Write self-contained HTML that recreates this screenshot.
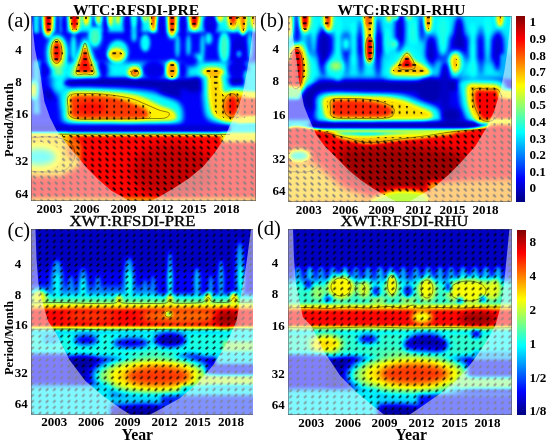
<!DOCTYPE html><html><head><meta charset="utf-8"><style>
html,body{margin:0;padding:0;background:#fff;width:550px;height:443px;overflow:hidden}
.pl{position:absolute;display:block;overflow:hidden}
.cb{position:absolute}
#tx{position:absolute;left:0;top:0}
text{font-family:"Liberation Serif","Times New Roman",serif;fill:#000}
</style></head><body>
<svg class="pl" style="left:31px;top:16px" width="225" height="185" viewBox="0 0 225 185">
<defs>
<filter id="ja" filterUnits="userSpaceOnUse" x="-20" y="-20" width="265" height="225" color-interpolation-filters="sRGB">
<feGaussianBlur stdDeviation="1"/>
<feComponentTransfer><feFuncR type="table" tableValues="0 0 0 0 0.5 1 1 1 0.5"/><feFuncG type="table" tableValues="0 0 0.5 1 1 1 0.5 0 0"/><feFuncB type="table" tableValues="0.5 1 1 1 0.5 0 0 0 0"/><feFuncA type="discrete" tableValues="1"/></feComponentTransfer>
</filter>
<filter id="ma" filterUnits="userSpaceOnUse" x="-20" y="-20" width="265" height="225" color-interpolation-filters="sRGB">
<feGaussianBlur stdDeviation="1"/>
<feComponentTransfer><feFuncR type="discrete" tableValues="0 0 0 0 0 0 0 0 0 0 0 0 0 1 1 1 1 1 1 1"/><feFuncG type="discrete" tableValues="0 0 0 0 0 0 0 0 0 0 0 0 0 1 1 1 1 1 1 1"/><feFuncB type="discrete" tableValues="0 0 0 0 0 0 0 0 0 0 0 0 0 1 1 1 1 1 1 1"/><feFuncA type="discrete" tableValues="1"/></feComponentTransfer>
</filter>
<pattern id="aa0" patternUnits="userSpaceOnUse" x="-0.125" y="-1.05" width="7.25" height="5.9">
<path d="M2.52,2.95L4.72,2.95" stroke="#000" stroke-width="1.9" stroke-linecap="round" opacity="0.85"/>
</pattern>
<pattern id="aa1" patternUnits="userSpaceOnUse" x="-0.125" y="-1.05" width="7.25" height="5.9">
<path d="M3.62,3.55L3.62,2.35" stroke="#000" stroke-width="1.9" stroke-linecap="round" opacity="0.85"/>
</pattern>
<pattern id="aa2" patternUnits="userSpaceOnUse" x="-0.125" y="-1.05" width="7.25" height="5.9">
<path d="M4.33,3.66L2.92,2.24" stroke="#000" stroke-width="1.9" stroke-linecap="round" opacity="0.9"/>
</pattern>
<g id="sa">
<rect x="-20" y="-20" width="265" height="225" fill="#212121"/>
<rect x="-5" y="-5" width="235" height="22" fill="#5e5e5e" filter="url(#f1_5)"/>
<rect x="-5" y="17" width="235" height="29" fill="#212121" filter="url(#f2)"/>
<rect x="-5" y="46" width="235" height="16" fill="#5e5e5e" filter="url(#f2)"/>
<ellipse cx="10" cy="8" rx="2.7" ry="12" fill="#1a1a1a" filter="url(#f1_5)"/>
<ellipse cx="26.5" cy="8" rx="2.2" ry="12" fill="#1a1a1a" filter="url(#f1_5)"/>
<ellipse cx="33.5" cy="8" rx="3.2" ry="12" fill="#1a1a1a" filter="url(#f1_5)"/>
<ellipse cx="64" cy="8" rx="2.7" ry="12" fill="#1a1a1a" filter="url(#f1_5)"/>
<ellipse cx="74.5" cy="8" rx="3.2" ry="12" fill="#1a1a1a" filter="url(#f1_5)"/>
<ellipse cx="96.5" cy="8" rx="4.2" ry="12" fill="#1a1a1a" filter="url(#f1_5)"/>
<ellipse cx="108" cy="8" rx="2.7" ry="12" fill="#1a1a1a" filter="url(#f1_5)"/>
<ellipse cx="131.5" cy="8" rx="6.2" ry="12" fill="#1a1a1a" filter="url(#f1_5)"/>
<ellipse cx="152" cy="8" rx="4.7" ry="12" fill="#1a1a1a" filter="url(#f1_5)"/>
<ellipse cx="179.5" cy="8" rx="7.2" ry="12" fill="#1a1a1a" filter="url(#f1_5)"/>
<ellipse cx="42.5" cy="32" rx="3" ry="13" fill="#636363" filter="url(#f1_5)"/>
<ellipse cx="64" cy="20" rx="6.5" ry="9" fill="#636363" filter="url(#f1_5)"/>
<ellipse cx="87" cy="36" rx="10.5" ry="12" fill="#636363" filter="url(#f1_5)"/>
<ellipse cx="114" cy="27" rx="4.5" ry="8" fill="#636363" filter="url(#f1_5)"/>
<ellipse cx="146.5" cy="30" rx="2" ry="12" fill="#636363" filter="url(#f1_5)"/>
<ellipse cx="157.5" cy="30" rx="2" ry="12" fill="#636363" filter="url(#f1_5)"/>
<ellipse cx="171.5" cy="30" rx="2" ry="12" fill="#636363" filter="url(#f1_5)"/>
<ellipse cx="193.5" cy="32" rx="6" ry="15" fill="#636363" filter="url(#f1_5)"/>
<ellipse cx="219" cy="30" rx="2.5" ry="14" fill="#636363" filter="url(#f1_5)"/>
<ellipse cx="103" cy="20" rx="2.5" ry="6" fill="#636363" filter="url(#f1_5)"/>
<ellipse cx="12.5" cy="54" rx="8" ry="10" fill="#1a1a1a" filter="url(#f2)"/>
<ellipse cx="71" cy="54" rx="6.5" ry="10" fill="#1a1a1a" filter="url(#f2)"/>
<ellipse cx="123" cy="54" rx="12.5" ry="10" fill="#1a1a1a" filter="url(#f2)"/>
<ellipse cx="151.5" cy="54" rx="5" ry="10" fill="#1a1a1a" filter="url(#f2)"/>
<ellipse cx="206.5" cy="54" rx="11" ry="10" fill="#1a1a1a" filter="url(#f2)"/>
<rect x="-5" y="-5" width="8" height="67" fill="#1f1f1f" filter="url(#f1)"/>
<rect x="3.5" y="-5" width="4" height="22" fill="#5c5c5c" filter="url(#f1)"/>
<ellipse cx="208" cy="35" rx="8" ry="14" fill="#171717" filter="url(#f2)"/>
<ellipse cx="26" cy="37" rx="10" ry="18" fill="#5c5c5c" filter="url(#f2_5)"/>
<polygon points="54,20 39,63 69,63" fill="#5c5c5c" filter="url(#f2_5)"/>
<ellipse cx="28" cy="57" rx="6" ry="5" fill="#666666" filter="url(#f2)"/>
<ellipse cx="114.5" cy="27" rx="3.5" ry="8" fill="#616161" filter="url(#f1_5)"/>
<ellipse cx="177.7" cy="22.5" rx="3.5" ry="6" fill="#616161" filter="url(#f1_5)"/>
<ellipse cx="208" cy="38" rx="2.5" ry="3.5" fill="#545454" filter="url(#f1_5)"/>
<ellipse cx="64" cy="22" rx="5" ry="10" fill="#737373" filter="url(#f2_5)"/>
<ellipse cx="193" cy="30" rx="3" ry="14" fill="#737373" filter="url(#f2)"/>
<ellipse cx="167" cy="43" rx="5" ry="5" fill="#808080" filter="url(#f2)"/>
<ellipse cx="17" cy="3" rx="4.3" ry="18" fill="#f2f2f2" filter="url(#f2)"/>
<ellipse cx="43.5" cy="2" rx="4.3" ry="15" fill="#f2f2f2" filter="url(#f2)"/>
<ellipse cx="55.3" cy="0" rx="2.8" ry="10" fill="#b8b8b8" filter="url(#f1_5)"/>
<ellipse cx="67" cy="0" rx="2.8" ry="9" fill="#9e9e9e" filter="url(#f1_5)"/>
<ellipse cx="79.3" cy="0" rx="2.5" ry="11" fill="#b2b2b2" filter="url(#f1_5)"/>
<ellipse cx="87" cy="0" rx="2" ry="9" fill="#adadad" filter="url(#f1_5)"/>
<ellipse cx="103" cy="2" rx="2.5" ry="10" fill="#6b6b6b" filter="url(#f1_5)"/>
<ellipse cx="114" cy="0" rx="3" ry="6" fill="#949494" filter="url(#f1_5)"/>
<ellipse cx="122.3" cy="0" rx="3.2" ry="16" fill="#d1d1d1" filter="url(#f1_5)"/>
<ellipse cx="141" cy="3" rx="4" ry="19" fill="#e6e6e6" filter="url(#f2)"/>
<ellipse cx="163.5" cy="0" rx="4.5" ry="14" fill="#f2f2f2" filter="url(#f2)"/>
<ellipse cx="189" cy="0" rx="3.5" ry="6" fill="#a8a8a8" filter="url(#f1_5)"/>
<ellipse cx="202" cy="0" rx="5.5" ry="14" fill="#c2c2c2" filter="url(#f2)"/>
<ellipse cx="202" cy="0" rx="3" ry="7" fill="#dbdbdb" filter="url(#f1_5)"/>
<ellipse cx="212" cy="1" rx="3.8" ry="18" fill="#c2c2c2" filter="url(#f1_5)"/>
<ellipse cx="224" cy="3" rx="4" ry="10" fill="#c7c7c7" filter="url(#f2)"/>
<ellipse cx="26.5" cy="37" rx="8.5" ry="16" fill="#9e9e9e" filter="url(#f2_5)"/>
<ellipse cx="26" cy="36" rx="4.6" ry="11" fill="#dbdbdb" filter="url(#f1_5)"/>
<ellipse cx="28" cy="57" rx="3.5" ry="3.5" fill="#8c8c8c" filter="url(#f1_5)"/>
<polygon points="54,22 40,61 68,61" fill="#a1a1a1" filter="url(#f2_5)"/>
<polygon points="54,29 45.5,56.5 62,56.5" fill="#dbdbdb" filter="url(#f1_5)"/>
<ellipse cx="85.5" cy="38.5" rx="8.5" ry="6.5" fill="#adadad" filter="url(#f1_5)"/>
<ellipse cx="103.5" cy="56.5" rx="7" ry="6.5" fill="#adadad" filter="url(#f1_5)"/>
<ellipse cx="103.5" cy="56.5" rx="2.5" ry="2.2" fill="#d1d1d1" filter="url(#f1)"/>
<ellipse cx="141" cy="54" rx="6" ry="9.5" fill="#b8b8b8" filter="url(#f1_5)"/>
<ellipse cx="181" cy="55.5" rx="11.5" ry="5" fill="#b2b2b2" filter="url(#f2)"/>
<rect x="2.5" y="45" width="6.5" height="53" fill="#545454" filter="url(#f1_5)"/>
<ellipse cx="2" cy="74" rx="4" ry="9" fill="#a8a8a8" filter="url(#f2)"/>
<ellipse cx="15" cy="80" rx="6" ry="18" fill="#1f1f1f" filter="url(#f2)"/>
<ellipse cx="19.5" cy="77" rx="5" ry="6" fill="#0a0a0a" filter="url(#f2)"/>
<ellipse cx="29" cy="68" rx="9" ry="11" fill="#616161" filter="url(#f3)"/>
<path d="M36.0,64.5C40.0,63.3 49.3,62.8 60.0,62.5C70.7,62.2 88.8,62.2 100.0,62.5C111.2,62.8 118.7,64.2 127.0,64.5C135.3,64.8 133.7,64.2 150.0,64.0C166.3,63.8 212.5,61.8 225.0,63.0C237.5,64.2 237.5,69.4 225.0,71.0C212.5,72.6 166.3,72.3 150.0,72.5C133.7,72.7 135.3,72.3 127.0,72.0C118.7,71.7 111.2,70.8 100.0,70.5C88.8,70.2 70.7,70.7 60.0,70.5C49.3,70.3 40.0,70.5 36.0,69.5C32.0,68.5 32.0,65.7 36.0,64.5Z" fill="#0d0d0d" filter="url(#f1_5)"/>
<polygon points="127,68 150,68 150,82 128,80" fill="#0f0f0f" filter="url(#f2)"/>
<ellipse cx="166" cy="70" rx="11" ry="8" fill="#0d0d0d" filter="url(#f2_5)"/>
<ellipse cx="165" cy="90" rx="10" ry="14" fill="#1f1f1f" filter="url(#f2_5)"/>
<path d="M30.0,76.0C32.5,72.1 37.5,72.2 45.0,71.5C52.5,70.8 65.8,71.7 75.0,72.0C84.2,72.3 92.5,72.8 100.0,73.5C107.5,74.2 114.2,74.8 120.0,76.0C125.8,77.2 130.3,79.2 135.0,81.0C139.7,82.8 145.2,84.2 148.0,87.0C150.8,89.8 152.0,94.6 152.0,98.0C152.0,101.4 153.3,105.8 148.0,107.5C142.7,109.2 132.2,108.3 120.0,108.5C107.8,108.7 89.0,108.7 75.0,108.5C61.0,108.3 43.5,109.8 36.0,107.5C28.5,105.2 31.0,100.2 30.0,95.0C29.0,89.8 27.5,79.9 30.0,76.0Z" fill="#616161" filter="url(#f2)"/>
<path d="M170.0,52.0C173.5,49.2 187.5,46.3 192.0,48.0C196.5,49.7 195.7,58.3 197.0,62.0C198.3,65.7 197.5,68.7 200.0,70.0C202.5,71.3 209.0,69.0 212.0,70.0C215.0,71.0 217.0,70.2 218.0,76.0C219.0,81.8 220.2,99.3 218.0,105.0C215.8,110.7 209.7,109.5 205.0,110.0C200.3,110.5 194.8,109.3 190.0,108.0C185.2,106.7 179.0,105.8 176.0,102.0C173.0,98.2 172.8,91.2 172.0,85.0C171.2,78.8 171.3,70.5 171.0,65.0C170.7,59.5 166.5,54.8 170.0,52.0Z" fill="#616161" filter="url(#f2)"/>
<rect x="213" y="55" width="17" height="20" fill="#5c5c5c" filter="url(#f1_5)"/>
<polygon points="0,109.5 225,109.5 225,116.5 0,116.5" fill="#141414" filter="url(#f1_5)"/>
<path d="M37.0,78.0C38.5,74.7 38.7,75.4 45.0,75.0C51.3,74.6 65.8,75.0 75.0,75.5C84.2,76.0 93.5,76.9 100.0,78.0C106.5,79.1 109.3,80.2 114.0,82.0C118.7,83.8 123.5,87.0 128.0,89.0C132.5,91.0 138.2,92.3 141.0,94.0C143.8,95.7 144.7,97.3 145.0,99.0C145.3,100.7 147.2,102.9 143.0,104.0C138.8,105.1 131.3,105.2 120.0,105.5C108.7,105.8 88.3,105.8 75.0,105.5C61.7,105.2 46.5,105.8 40.0,104.0C33.5,102.2 36.5,99.3 36.0,95.0C35.5,90.7 35.5,81.3 37.0,78.0Z" fill="#a3a3a3" filter="url(#f1_5)"/>
<path d="M41.0,81.0C44.3,79.2 53.5,79.5 60.0,79.5C66.5,79.5 74.7,80.2 80.0,81.0C85.3,81.8 88.2,82.8 92.0,84.0C95.8,85.2 99.5,86.7 103.0,88.0C106.5,89.3 110.7,90.5 113.0,92.0C115.3,93.5 117.0,95.3 117.0,97.0C117.0,98.7 120.0,101.1 113.0,102.0C106.0,102.9 86.7,102.6 75.0,102.5C63.3,102.4 48.8,103.6 43.0,101.5C37.2,99.4 40.3,93.4 40.0,90.0C39.7,86.6 37.7,82.8 41.0,81.0Z" fill="#d1d1d1" filter="url(#f1_5)"/>
<ellipse cx="60" cy="92" rx="15" ry="6" fill="#dbdbdb" filter="url(#f2)"/>
<path d="M178.0,58.0C179.8,56.0 185.8,54.7 188.0,56.0C190.2,57.3 190.2,62.7 191.0,66.0C191.8,69.3 190.5,74.7 193.0,76.0C195.5,77.3 202.7,73.3 206.0,74.0C209.3,74.7 211.8,75.7 213.0,80.0C214.2,84.3 214.3,95.7 213.0,100.0C211.7,104.3 208.5,105.2 205.0,106.0C201.5,106.8 195.8,106.2 192.0,105.0C188.2,103.8 184.3,102.3 182.0,99.0C179.7,95.7 178.8,90.2 178.0,85.0C177.2,79.8 177.0,72.5 177.0,68.0C177.0,63.5 176.2,60.0 178.0,58.0Z" fill="#a8a8a8" filter="url(#f1_5)"/>
<ellipse cx="201.5" cy="90" rx="6" ry="11" fill="#dedede" filter="url(#f2)"/>
<ellipse cx="195" cy="91" rx="2.5" ry="8" fill="#c7c7c7" filter="url(#f1_5)"/>
<rect x="210" y="75" width="20" height="6" fill="#a3a3a3" filter="url(#f1)"/>
<rect x="208" y="81" width="22" height="20" fill="#d6d6d6" filter="url(#f1)"/>
<rect x="205" y="101" width="25" height="7" fill="#a3a3a3" filter="url(#f1)"/>
<rect x="199" y="108" width="31" height="9" fill="#5c5c5c" filter="url(#f1)"/>
<ellipse cx="182" cy="56" rx="11" ry="4.5" fill="#b2b2b2" filter="url(#f1_5)"/>
<ellipse cx="160" cy="45" rx="8" ry="6" fill="#1f1f1f" filter="url(#f2)"/>
<rect x="-5" y="116.8" width="235" height="2.2" fill="#a3a3a3" filter="url(#f0_8)"/>
<rect x="-5" y="119" width="235" height="71" fill="#dedede" filter="url(#f0_8)"/>
<ellipse cx="142" cy="155" rx="42" ry="28" fill="#ededed" filter="url(#f6)"/>
<rect x="190" y="117" width="40" height="9" fill="#a3a3a3" filter="url(#f1)"/>
<polygon points="-5,118 36,118 48,130 48,150 30,160 -5,160" fill="#a8a8a8" filter="url(#f2)"/>
<ellipse cx="8" cy="141" rx="17" ry="8.5" fill="#616161" filter="url(#f3)"/>
<ellipse cx="42" cy="133" rx="7" ry="11" fill="#c7c7c7" filter="url(#f2_5)"/>
<rect x="-5" y="181.5" width="235" height="8.5" fill="#b8b8b8" filter="url(#f1)"/>
</g>
<mask id="ka" maskUnits="userSpaceOnUse" x="0" y="0" width="225" height="185"><use href="#sa" filter="url(#ma)"/></mask>
</defs>
<use href="#sa" filter="url(#ja)"/>
<g mask="url(#ka)">
<rect x="0" y="0" width="225" height="72" fill="url(#aa0)"/>
<rect x="0" y="72" width="225" height="44" fill="url(#aa1)"/>
<rect x="0" y="116" width="225" height="69" fill="url(#aa2)"/>
</g>
<path d="M31.0,35.5C31.0,37.9 30.5,40.7 29.9,42.6C29.3,44.5 28.2,46.2 27.2,46.9C26.2,47.6 24.8,47.6 23.8,46.9C22.8,46.2 21.7,44.5 21.1,42.6C20.5,40.7 20.0,37.9 20.0,35.5C20.0,33.1 20.5,30.3 21.1,28.4C21.7,26.5 22.8,24.8 23.8,24.1C24.8,23.4 26.2,23.4 27.2,24.1C28.2,24.8 29.3,26.5 29.9,28.4C30.5,30.3 31.0,33.1 31.0,35.5Z" fill="none" stroke="#221100" stroke-width="0.8" opacity="0.65"/>
<path d="M54.0,27.0C55.3,27.0 56.5,35.0 58.0,40.0C59.5,45.0 63.7,54.0 63.0,57.0C62.3,60.0 57.0,58.0 54.0,58.0C51.0,58.0 45.7,60.0 45.0,57.0C44.3,54.0 48.5,45.0 50.0,40.0C51.5,35.0 52.7,27.0 54.0,27.0Z" fill="none" stroke="#221100" stroke-width="0.8" opacity="0.65"/>
<path d="M208.5,89.5C208.5,91.9 207.9,94.7 207.0,96.6C206.1,98.5 204.5,100.2 203.0,100.9C201.5,101.6 199.5,101.6 198.0,100.9C196.5,100.2 194.9,98.5 194.0,96.6C193.1,94.7 192.5,91.9 192.5,89.5C192.5,87.1 193.1,84.3 194.0,82.4C194.9,80.5 196.5,78.8 198.0,78.1C199.5,77.4 201.5,77.4 203.0,78.1C204.5,78.8 206.1,80.5 207.0,82.4C207.9,84.3 208.5,87.1 208.5,89.5Z" fill="none" stroke="#221100" stroke-width="0.8" opacity="0.65"/>
<path d="M107.5,57.0C107.5,57.6 107.2,58.4 106.8,58.9C106.4,59.4 105.8,59.8 105.1,60.0C104.4,60.2 103.6,60.2 102.9,60.0C102.2,59.8 101.6,59.4 101.2,58.9C100.8,58.4 100.5,57.6 100.5,57.0C100.5,56.4 100.8,55.6 101.2,55.1C101.6,54.6 102.2,54.2 102.9,54.0C103.6,53.8 104.4,53.8 105.1,54.0C105.8,54.2 106.4,54.6 106.8,55.1C107.2,55.6 107.5,56.4 107.5,57.0Z" fill="none" stroke="#221100" stroke-width="0.8" opacity="0.65"/>
<path d="M39.0,79.0C42.8,76.9 53.2,77.5 60.0,77.5C66.8,77.5 73.3,78.2 80.0,79.0C86.7,79.8 94.3,81.0 100.0,82.5C105.7,84.0 109.3,86.1 114.0,88.0C118.7,89.9 124.0,92.5 128.0,94.0C132.0,95.5 137.0,95.7 138.0,97.0C139.0,98.3 137.8,101.1 134.0,102.0C130.2,102.9 124.8,102.3 115.0,102.5C105.2,102.7 87.2,103.1 75.0,103.0C62.8,102.9 48.3,104.2 42.0,102.0C35.7,99.8 37.5,93.8 37.0,90.0C36.5,86.2 35.2,81.1 39.0,79.0Z" fill="none" stroke="#221100" stroke-width="0.8" opacity="0.65"/>
<path d="M27.0,118.3C35.8,118.3 61.2,118.2 80.0,118.2C98.8,118.2 120.2,118.2 140.0,118.3C159.8,118.3 189.2,118.5 199.0,118.5" fill="none" stroke="#221100" stroke-width="0.8" opacity="0.65"/>
<path d="M-2.0,122.0C1.7,121.8 13.3,120.3 20.0,121.0C26.7,121.7 34.0,122.8 38.0,126.0C42.0,129.2 44.7,135.3 44.0,140.0C43.3,144.7 38.8,151.3 34.0,154.0C29.2,156.7 21.0,155.8 15.0,156.0C9.0,156.2 0.8,155.2 -2.0,155.0" fill="none" stroke="#221100" stroke-width="0.8" opacity="0.65"/>
<path d="M-1,-1 L0.8,-1 L0.8,0 L2,15 L4,33 L7,48 L8.7,54 L11.1,70 L13.4,85.6 L19,101.5 L25.3,114 L30.1,120 L37.5,129.9 L46.8,141 L56,152 L67.1,163.3 L80.1,174.4 L93,181.8 L99,185.5 L119,185.5 L128.2,180.8 L142,172.7 L158.2,162.3 L172,150.8 L183.5,137 L192.7,123.2 L201,105 L207,92 L211.5,78 L215.5,58 L218.5,40 L221,20 L223,0 L223,-1 L226,-1 L226,186 L-1,186 Z" fill="#fff" fill-opacity="0.5"/>
<rect x="0.25" y="0.25" width="224.5" height="184.5" fill="none" stroke="#444" stroke-width="0.5"/>
</svg>
<svg class="pl" style="left:288px;top:16.4px" width="224" height="185.8" viewBox="0 0 224 185.8">
<defs>
<filter id="jb" filterUnits="userSpaceOnUse" x="-20" y="-20" width="264" height="225.8" color-interpolation-filters="sRGB">
<feGaussianBlur stdDeviation="1"/>
<feComponentTransfer><feFuncR type="table" tableValues="0 0 0 0 0.5 1 1 1 0.5"/><feFuncG type="table" tableValues="0 0 0.5 1 1 1 0.5 0 0"/><feFuncB type="table" tableValues="0.5 1 1 1 0.5 0 0 0 0"/><feFuncA type="discrete" tableValues="1"/></feComponentTransfer>
</filter>
<filter id="mb" filterUnits="userSpaceOnUse" x="-20" y="-20" width="264" height="225.8" color-interpolation-filters="sRGB">
<feGaussianBlur stdDeviation="1"/>
<feComponentTransfer><feFuncR type="discrete" tableValues="0 0 0 0 0 0 0 0 0 0 0 0 0 1 1 1 1 1 1 1"/><feFuncG type="discrete" tableValues="0 0 0 0 0 0 0 0 0 0 0 0 0 1 1 1 1 1 1 1"/><feFuncB type="discrete" tableValues="0 0 0 0 0 0 0 0 0 0 0 0 0 1 1 1 1 1 1 1"/><feFuncA type="discrete" tableValues="1"/></feComponentTransfer>
</filter>
<pattern id="ab0" patternUnits="userSpaceOnUse" x="-1.55" y="-1.675" width="7.3" height="5.95">
<path d="M2.55,2.98L4.75,2.98" stroke="#000" stroke-width="1.9" stroke-linecap="round" opacity="0.85"/>
</pattern>
<pattern id="ab1" patternUnits="userSpaceOnUse" x="-1.55" y="-1.675" width="7.3" height="5.95">
<path d="M3.65,3.58L3.65,2.38" stroke="#000" stroke-width="1.9" stroke-linecap="round" opacity="0.85"/>
</pattern>
<pattern id="ab2" patternUnits="userSpaceOnUse" x="-1.55" y="-1.675" width="7.3" height="5.95">
<path d="M4.36,3.68L2.94,2.27" stroke="#000" stroke-width="1.9" stroke-linecap="round" opacity="0.9"/>
</pattern>
<g id="sb">
<rect x="-20" y="-20" width="264" height="225.8" fill="#1f1f1f"/>
<rect x="-5" y="-5" width="235" height="67" fill="#5c5c5c" filter="url(#f2)"/>
<rect x="20" y="18" width="80" height="20" fill="#242424" filter="url(#f3)"/>
<rect x="140" y="20" width="75" height="25" fill="#242424" filter="url(#f3)"/>
<ellipse cx="26" cy="18" rx="3" ry="20" fill="#666666" filter="url(#f2)"/>
<ellipse cx="50" cy="35" rx="4" ry="35" fill="#666666" filter="url(#f2)"/>
<ellipse cx="66" cy="28" rx="4" ry="22" fill="#666666" filter="url(#f2)"/>
<ellipse cx="99" cy="26" rx="5" ry="14" fill="#666666" filter="url(#f2)"/>
<ellipse cx="126" cy="16" rx="6" ry="12" fill="#666666" filter="url(#f2)"/>
<ellipse cx="155" cy="20" rx="6" ry="20" fill="#666666" filter="url(#f2)"/>
<ellipse cx="185" cy="36" rx="4" ry="28" fill="#666666" filter="url(#f2)"/>
<ellipse cx="199.5" cy="24" rx="3.5" ry="24" fill="#666666" filter="url(#f2)"/>
<ellipse cx="9" cy="15" rx="3" ry="20" fill="#141414" filter="url(#f2)"/>
<ellipse cx="36" cy="35" rx="6" ry="25" fill="#0f0f0f" filter="url(#f2)"/>
<ellipse cx="58" cy="40" rx="2.5" ry="20" fill="#1a1a1a" filter="url(#f2)"/>
<ellipse cx="73" cy="32" rx="2.5" ry="28" fill="#141414" filter="url(#f2)"/>
<ellipse cx="90" cy="32" rx="3" ry="30" fill="#0f0f0f" filter="url(#f2)"/>
<ellipse cx="112" cy="15" rx="5" ry="22" fill="#121212" filter="url(#f2)"/>
<ellipse cx="142.5" cy="40" rx="4.5" ry="20" fill="#121212" filter="url(#f2)"/>
<ellipse cx="171" cy="30" rx="6" ry="30" fill="#0f0f0f" filter="url(#f2)"/>
<ellipse cx="193" cy="35" rx="2" ry="25" fill="#1a1a1a" filter="url(#f2)"/>
<ellipse cx="210" cy="35" rx="5" ry="20" fill="#141414" filter="url(#f2)"/>
<ellipse cx="134" cy="12" rx="2.5" ry="14" fill="#171717" filter="url(#f2)"/>
<ellipse cx="23" cy="58" rx="6" ry="14" fill="#616161" filter="url(#f2_5)"/>
<ellipse cx="47" cy="52" rx="11" ry="10" fill="#616161" filter="url(#f2_5)"/>
<path d="M119.0,30.0C123.0,30.0 127.5,36.3 132.0,40.0C136.5,43.7 143.7,48.0 146.0,52.0C148.3,56.0 148.7,61.7 146.0,64.0C143.3,66.3 137.7,66.0 130.0,66.0C122.3,66.0 105.2,66.3 100.0,64.0C94.8,61.7 97.7,56.0 99.0,52.0C100.3,48.0 104.7,43.7 108.0,40.0C111.3,36.3 115.0,30.0 119.0,30.0Z" fill="#616161" filter="url(#f2_5)"/>
<ellipse cx="169" cy="47" rx="9" ry="13" fill="#616161" filter="url(#f2_5)"/>
<ellipse cx="107" cy="28" rx="3.5" ry="4" fill="#808080" filter="url(#f2)"/>
<ellipse cx="58" cy="28" rx="3" ry="7" fill="#7a7a7a" filter="url(#f2)"/>
<rect x="212" y="38" width="18" height="36" fill="#4c4c4c" filter="url(#f1_5)"/>
<ellipse cx="0" cy="8" rx="4" ry="14" fill="#c2c2c2" filter="url(#f2)"/>
<ellipse cx="17" cy="2" rx="4.3" ry="14" fill="#f2f2f2" filter="url(#f2)"/>
<ellipse cx="40" cy="2" rx="3.8" ry="14" fill="#e0e0e0" filter="url(#f2)"/>
<ellipse cx="81" cy="18" rx="5" ry="30" fill="#b2b2b2" filter="url(#f2)"/>
<ellipse cx="81.5" cy="33" rx="3.5" ry="12" fill="#ebebeb" filter="url(#f1_5)"/>
<ellipse cx="80" cy="2" rx="4" ry="10" fill="#c7c7c7" filter="url(#f1_5)"/>
<ellipse cx="101" cy="0" rx="2.5" ry="6" fill="#a8a8a8" filter="url(#f1_5)"/>
<ellipse cx="108" cy="0" rx="2.5" ry="4" fill="#949494" filter="url(#f1_5)"/>
<ellipse cx="121" cy="0" rx="2.5" ry="4" fill="#949494" filter="url(#f1_5)"/>
<ellipse cx="140" cy="3" rx="3.5" ry="13" fill="#c2c2c2" filter="url(#f1_5)"/>
<ellipse cx="212" cy="2" rx="3.5" ry="9" fill="#b2b2b2" filter="url(#f1_5)"/>
<ellipse cx="167" cy="47" rx="5" ry="10" fill="#b2b2b2" filter="url(#f2)"/>
<ellipse cx="10" cy="53" rx="10" ry="26" fill="#a8a8a8" filter="url(#f2_5)"/>
<ellipse cx="8" cy="53" rx="6.5" ry="22" fill="#ebebeb" filter="url(#f2)"/>
<ellipse cx="48" cy="50" rx="6" ry="4" fill="#8f8f8f" filter="url(#f2)"/>
<path d="M119.0,36.0C121.7,35.7 123.2,41.7 126.0,44.0C128.8,46.3 133.3,48.0 136.0,50.0C138.7,52.0 141.3,54.2 142.0,56.0C142.7,57.8 142.3,60.3 140.0,61.0C137.7,61.7 133.7,60.3 128.0,60.0C122.3,59.7 110.2,60.2 106.0,59.0C101.8,57.8 102.3,55.2 103.0,53.0C103.7,50.8 107.3,48.8 110.0,46.0C112.7,43.2 116.3,36.3 119.0,36.0Z" fill="#adadad" filter="url(#f1_5)"/>
<polygon points="119,40 112.5,51 125.5,51" fill="#ebebeb" filter="url(#f1_2)"/>
<path d="M29.0,67.0C37.5,65.3 59.8,65.3 80.0,65.0C100.2,64.7 126.0,65.2 150.0,65.0C174.0,64.8 211.7,62.8 224.0,64.0C236.3,65.2 236.3,70.2 224.0,72.0C211.7,73.8 174.0,74.3 150.0,75.0C126.0,75.7 100.2,76.0 80.0,76.0C59.8,76.0 37.5,76.5 29.0,75.0C20.5,73.5 20.5,68.7 29.0,67.0Z" fill="#0d0d0d" filter="url(#f1_5)"/>
<ellipse cx="25" cy="83" rx="11" ry="12" fill="#0d0d0d" filter="url(#f2_5)"/>
<ellipse cx="142" cy="74" rx="13" ry="14" fill="#0d0d0d" filter="url(#f2_5)"/>
<ellipse cx="157" cy="70" rx="6" ry="25" fill="#121212" filter="url(#f2)"/>
<path d="M30.0,79.0C33.7,76.3 41.7,76.3 50.0,76.0C58.3,75.7 70.0,76.7 80.0,77.0C90.0,77.3 101.7,76.8 110.0,78.0C118.3,79.2 123.3,81.5 130.0,84.0C136.7,86.5 146.7,89.3 150.0,93.0C153.3,96.7 158.3,103.5 150.0,106.0C141.7,108.5 116.7,107.7 100.0,108.0C83.3,108.3 61.7,108.5 50.0,108.0C38.3,107.5 33.7,107.7 30.0,105.0C26.3,102.3 28.0,96.3 28.0,92.0C28.0,87.7 26.3,81.7 30.0,79.0Z" fill="#616161" filter="url(#f2)"/>
<path d="M172.0,64.0C175.8,61.0 187.8,61.8 195.0,62.0C202.2,62.2 210.8,62.0 215.0,65.0C219.2,68.0 219.5,74.2 220.0,80.0C220.5,85.8 220.5,94.7 218.0,100.0C215.5,105.3 210.5,110.3 205.0,112.0C199.5,113.7 190.0,112.8 185.0,110.0C180.0,107.2 177.2,100.0 175.0,95.0C172.8,90.0 172.5,85.2 172.0,80.0C171.5,74.8 168.2,67.0 172.0,64.0Z" fill="#616161" filter="url(#f2)"/>
<polygon points="14,106 224,105 224,113 150,115 60,116 14,114" fill="#0d0d0d" filter="url(#f1_5)"/>
<ellipse cx="163" cy="99" rx="10" ry="7" fill="#0d0d0d" filter="url(#f2)"/>
<path d="M36.0,82.0C38.5,79.9 42.7,79.8 50.0,79.5C57.3,79.2 71.7,79.8 80.0,80.0C88.3,80.2 94.2,80.3 100.0,81.0C105.8,81.7 110.0,82.5 115.0,84.0C120.0,85.5 125.3,88.0 130.0,90.0C134.7,92.0 141.3,93.8 143.0,96.0C144.7,98.2 147.2,101.7 140.0,103.0C132.8,104.3 113.3,103.8 100.0,104.0C86.7,104.2 70.0,104.2 60.0,104.0C50.0,103.8 44.2,105.0 40.0,103.0C35.8,101.0 35.7,95.5 35.0,92.0C34.3,88.5 33.5,84.1 36.0,82.0Z" fill="#a6a6a6" filter="url(#f1_5)"/>
<path d="M45.0,85.0C47.7,83.7 54.2,84.0 60.0,84.0C65.8,84.0 74.2,84.3 80.0,85.0C85.8,85.7 91.0,86.7 95.0,88.0C99.0,89.3 103.2,91.0 104.0,93.0C104.8,95.0 104.8,98.7 100.0,100.0C95.2,101.3 83.8,101.0 75.0,101.0C66.2,101.0 52.2,101.5 47.0,100.0C41.8,98.5 44.3,94.5 44.0,92.0C43.7,89.5 42.3,86.3 45.0,85.0Z" fill="#d6d6d6" filter="url(#f1_5)"/>
<path d="M180.0,69.0C182.7,66.7 189.8,67.8 195.0,68.0C200.2,68.2 207.7,68.0 211.0,70.0C214.3,72.0 214.7,75.8 215.0,80.0C215.3,84.2 214.7,90.8 213.0,95.0C211.3,99.2 207.8,102.8 205.0,105.0C202.2,107.2 198.8,108.0 196.0,108.0C193.2,108.0 190.3,107.2 188.0,105.0C185.7,102.8 183.5,98.8 182.0,95.0C180.5,91.2 179.3,86.3 179.0,82.0C178.7,77.7 177.3,71.3 180.0,69.0Z" fill="#a8a8a8" filter="url(#f1_5)"/>
<path d="M188.0,75.0C190.2,73.2 196.3,74.3 200.0,74.5C203.7,74.7 208.0,73.4 210.0,76.0C212.0,78.6 212.8,85.7 212.0,90.0C211.2,94.3 207.8,99.8 205.0,102.0C202.2,104.2 197.5,104.2 195.0,103.0C192.5,101.8 191.3,98.0 190.0,95.0C188.7,92.0 187.3,88.3 187.0,85.0C186.7,81.7 185.8,76.8 188.0,75.0Z" fill="#e0e0e0" filter="url(#f1_5)"/>
<rect x="210" y="74" width="20" height="8" fill="#a3a3a3" filter="url(#f1)"/>
<rect x="207" y="82" width="23" height="22" fill="#dbdbdb" filter="url(#f1)"/>
<rect x="200" y="103.6" width="30" height="10.9" fill="#a3a3a3" filter="url(#f1)"/>
<rect x="-5" y="45" width="13" height="26" fill="#dbdbdb" filter="url(#f1_5)"/>
<rect x="-5" y="71" width="17" height="12" fill="#808080" filter="url(#f1_5)"/>
<rect x="-5" y="104" width="27" height="6" fill="#5c5c5c" filter="url(#f1_5)"/>
<rect x="-5" y="113" width="235" height="4" fill="#a3a3a3" filter="url(#f1)"/>
<path d="M-5.0,116.5C2.5,103.3 29.5,115.2 40.0,116.0C50.5,116.8 51.3,119.1 58.0,121.0C64.7,122.9 71.0,127.1 80.0,127.5C89.0,127.9 102.0,124.8 112.0,123.5C122.0,122.2 130.3,121.3 140.0,120.0C149.7,118.7 155.0,116.4 170.0,115.5C185.0,114.6 220.0,101.2 230.0,114.5C240.0,127.8 269.2,181.6 230.0,195.0C190.8,208.4 34.2,208.1 -5.0,195.0C-44.2,181.9 -12.5,129.7 -5.0,116.5Z" fill="#dedede" filter="url(#f1)"/>
<path d="M45.0,118.0C48.7,117.2 67.5,119.2 80.0,119.0C92.5,118.8 106.7,117.5 120.0,117.0C133.3,116.5 152.5,115.8 160.0,116.0C167.5,116.2 168.3,117.2 165.0,118.0C161.7,118.8 148.8,120.0 140.0,121.0C131.2,122.0 122.0,122.8 112.0,124.0C102.0,125.2 89.0,128.0 80.0,128.0C71.0,128.0 63.8,125.7 58.0,124.0C52.2,122.3 41.3,118.8 45.0,118.0Z" fill="#a3a3a3" filter="url(#f1)"/>
<path d="M50.0,135.0C54.0,128.8 75.0,129.7 90.0,129.0C105.0,128.3 125.3,129.2 140.0,131.0C154.7,132.8 174.7,133.8 178.0,140.0C181.3,146.2 171.3,162.0 160.0,168.0C148.7,174.0 125.7,176.3 110.0,176.0C94.3,175.7 76.0,172.8 66.0,166.0C56.0,159.2 46.0,141.2 50.0,135.0Z" fill="#f7f7f7" filter="url(#f6)"/>
<ellipse cx="11" cy="140" rx="11" ry="6" fill="#616161" filter="url(#f2_5)"/>
<polygon points="-5,148 25,146 55,172 95,186 -5,190" fill="#adadad" filter="url(#f3)"/>
<path d="M86.0,182.0C90.0,179.0 101.0,174.7 110.0,174.0C119.0,173.3 135.0,175.0 140.0,178.0C145.0,181.0 149.0,189.7 140.0,192.0C131.0,194.3 95.0,193.7 86.0,192.0C77.0,190.3 82.0,185.0 86.0,182.0Z" fill="#8f8f8f" filter="url(#f2)"/>
<polygon points="140,166 230,163 230,192 140,192" fill="#b8b8b8" filter="url(#f2)"/>
</g>
<mask id="kb" maskUnits="userSpaceOnUse" x="0" y="0" width="224" height="185.8"><use href="#sb" filter="url(#mb)"/></mask>
</defs>
<use href="#sb" filter="url(#jb)"/>
<g mask="url(#kb)">
<rect x="0" y="0" width="224" height="72" fill="url(#ab0)"/>
<rect x="0" y="72" width="224" height="40" fill="url(#ab1)"/>
<rect x="0" y="112" width="224" height="74" fill="url(#ab2)"/>
</g>
<path d="M15.0,53.0C15.0,56.9 14.5,61.6 13.7,64.8C12.9,68.0 11.5,70.8 10.2,72.0C8.9,73.2 7.1,73.2 5.8,72.0C4.5,70.8 3.1,68.0 2.3,64.8C1.5,61.6 1.0,56.9 1.0,53.0C1.0,49.1 1.5,44.4 2.3,41.2C3.1,38.0 4.5,35.2 5.8,34.0C7.1,32.8 8.9,32.8 10.2,34.0C11.5,35.2 12.9,38.0 13.7,41.2C14.5,44.4 15.0,49.1 15.0,53.0Z" fill="none" stroke="#221100" stroke-width="0.8" opacity="0.65"/>
<path d="M85.7,33.0C85.7,35.4 85.4,38.3 84.9,40.3C84.4,42.3 83.6,44.1 82.8,44.9C82.0,45.7 81.0,45.7 80.2,44.9C79.4,44.1 78.6,42.3 78.1,40.3C77.6,38.3 77.3,35.4 77.3,33.0C77.3,30.6 77.6,27.7 78.1,25.7C78.6,23.7 79.4,21.9 80.2,21.1C81.0,20.3 82.0,20.3 82.8,21.1C83.6,21.9 84.4,23.7 84.9,25.7C85.4,27.7 85.7,30.6 85.7,33.0Z" fill="none" stroke="#221100" stroke-width="0.8" opacity="0.65"/>
<path d="M119.0,37.0C121.7,37.0 128.3,49.5 127.0,52.0C125.7,54.5 112.3,54.5 111.0,52.0C109.7,49.5 116.3,37.0 119.0,37.0Z" fill="none" stroke="#221100" stroke-width="0.8" opacity="0.65"/>
<path d="M44.0,83.5C46.9,81.9 54.0,82.5 60.0,82.5C66.0,82.5 74.2,82.8 80.0,83.5C85.8,84.2 90.7,84.9 95.0,86.5C99.3,88.1 105.0,90.5 106.0,93.0C107.0,95.5 106.2,99.9 101.0,101.5C95.8,103.1 84.2,102.5 75.0,102.5C65.8,102.5 51.4,103.2 46.0,101.5C40.6,99.8 42.8,95.0 42.5,92.0C42.2,89.0 41.1,85.1 44.0,83.5Z" fill="none" stroke="#221100" stroke-width="0.8" opacity="0.65"/>
<path d="M186.0,73.5C188.4,71.5 195.8,72.8 200.0,73.0C204.2,73.2 208.7,71.7 211.0,74.5C213.3,77.3 214.8,85.2 214.0,90.0C213.2,94.8 209.2,101.1 206.0,103.5C202.8,105.9 197.9,105.9 195.0,104.5C192.1,103.1 190.1,98.2 188.5,95.0C186.9,91.8 185.9,88.6 185.5,85.0C185.1,81.4 183.6,75.5 186.0,73.5Z" fill="none" stroke="#221100" stroke-width="0.8" opacity="0.65"/>
<path d="M36.0,116.5C39.7,117.3 50.7,119.8 58.0,121.5C65.3,123.2 71.0,126.2 80.0,126.5C89.0,126.8 102.0,124.2 112.0,123.0C122.0,121.8 130.3,120.8 140.0,119.5C149.7,118.2 160.0,116.0 170.0,115.0C180.0,114.0 195.0,113.8 200.0,113.5" fill="none" stroke="#221100" stroke-width="0.8" opacity="0.65"/>
<path d="M-2.0,133.0C0.8,132.7 10.0,130.5 15.0,131.0C20.0,131.5 25.5,132.8 28.0,136.0C30.5,139.2 31.7,146.7 30.0,150.0C28.3,153.3 23.3,155.2 18.0,156.0C12.7,156.8 1.3,155.2 -2.0,155.0" fill="none" stroke="#221100" stroke-width="0.8" opacity="0.65"/>
<path d="M-1,-1 L3,-1 L3,0 L5,20 L7,35 L8.7,45 L11,65 L14,80 L16,90 L21.8,104.5 L28.4,119 L36.7,130 L48.9,142.2 L61,154.4 L73.3,164.6 L85.5,172.8 L99.8,181 L110,186.5 L120,186.5 L132.4,178.9 L146.6,170.7 L160.9,158.5 L173,146.3 L187.4,130 L197.7,113 L206.3,94.8 L212.4,74.5 L216.5,54.2 L219.5,33.9 L221.5,13.6 L222.5,0 L222.5,-1 L225,-1 L225,186.8 L-1,186.8 Z" fill="#fff" fill-opacity="0.5"/>
<rect x="0.25" y="0.25" width="223.5" height="185.3" fill="none" stroke="#444" stroke-width="0.5"/>
</svg>
<svg class="pl" style="left:30.5px;top:229px" width="222.5" height="185.5" viewBox="0 0 222.5 185.5">
<defs>
<filter id="jc" filterUnits="userSpaceOnUse" x="-20" y="-20" width="262.5" height="225.5" color-interpolation-filters="sRGB">
<feGaussianBlur stdDeviation="1"/>
<feComponentTransfer><feFuncR type="table" tableValues="0 0 0 0 0.5 1 1 1 0.5"/><feFuncG type="table" tableValues="0 0 0.5 1 1 1 0.5 0 0"/><feFuncB type="table" tableValues="0.5 1 1 1 0.5 0 0 0 0"/><feFuncA type="discrete" tableValues="1"/></feComponentTransfer>
</filter>
<filter id="mc" filterUnits="userSpaceOnUse" x="-20" y="-20" width="262.5" height="225.5" color-interpolation-filters="sRGB">
<feGaussianBlur stdDeviation="1"/>
<feComponentTransfer><feFuncR type="discrete" tableValues="1 1 1 1 1 1 1 1 1 1 1 1 1 1 1 1 1 1 1 1"/><feFuncG type="discrete" tableValues="1 1 1 1 1 1 1 1 1 1 1 1 1 1 1 1 1 1 1 1"/><feFuncB type="discrete" tableValues="1 1 1 1 1 1 1 1 1 1 1 1 1 1 1 1 1 1 1 1"/><feFuncA type="discrete" tableValues="1"/></feComponentTransfer>
</filter>
<pattern id="ac0" patternUnits="userSpaceOnUse" x="-2.03" y="-2.495" width="7.26" height="5.93">
<path d="M2.99,3.60L4.27,2.33" stroke="#000" stroke-width="1.9" stroke-linecap="round" opacity="0.8"/>
</pattern>
<g id="sc">
<rect x="-20" y="-20" width="262.5" height="225.5" fill="#111111"/>
<rect x="-5" y="42" width="235" height="38" fill="#1f1f1f" filter="url(#f4)"/>
<rect x="-5" y="58" width="130" height="22" fill="#424242" filter="url(#f3)"/>
<ellipse cx="26" cy="52" rx="6" ry="22" fill="#4c4c4c" filter="url(#f2)"/>
<ellipse cx="26" cy="56" rx="3" ry="12" fill="#616161" filter="url(#f1_5)"/>
<ellipse cx="40" cy="58" rx="2.5" ry="12" fill="#474747" filter="url(#f1_5)"/>
<ellipse cx="52" cy="56" rx="4" ry="18" fill="#4c4c4c" filter="url(#f2)"/>
<ellipse cx="52" cy="60" rx="2.5" ry="12" fill="#666666" filter="url(#f1_5)"/>
<ellipse cx="67" cy="58" rx="2.5" ry="12" fill="#474747" filter="url(#f1_5)"/>
<ellipse cx="98" cy="50" rx="5" ry="22" fill="#525252" filter="url(#f2)"/>
<ellipse cx="98" cy="56" rx="2.5" ry="14" fill="#6b6b6b" filter="url(#f1_5)"/>
<ellipse cx="114" cy="60" rx="2" ry="10" fill="#474747" filter="url(#f1_5)"/>
<ellipse cx="122" cy="58" rx="2" ry="12" fill="#474747" filter="url(#f1_5)"/>
<ellipse cx="139" cy="46" rx="2.5" ry="25" fill="#525252" filter="url(#f1_5)"/>
<ellipse cx="139" cy="54" rx="1.5" ry="15" fill="#6b6b6b" filter="url(#f1)"/>
<ellipse cx="166" cy="54" rx="3" ry="16" fill="#525252" filter="url(#f1_5)"/>
<ellipse cx="180" cy="58" rx="2" ry="12" fill="#4c4c4c" filter="url(#f1_5)"/>
<ellipse cx="190" cy="50" rx="2.5" ry="20" fill="#525252" filter="url(#f1_5)"/>
<ellipse cx="209" cy="40" rx="4" ry="28" fill="#525252" filter="url(#f2)"/>
<ellipse cx="210" cy="52" rx="2" ry="16" fill="#6b6b6b" filter="url(#f1_5)"/>
<rect x="-5" y="66" width="235" height="9" fill="#6b6b6b" filter="url(#f2)"/>
<rect x="-5" y="71" width="235" height="5" fill="#808080" filter="url(#f1_5)"/>
<rect x="-5" y="75" width="235" height="4.5" fill="#a8a8a8" filter="url(#f1_2)"/>
<ellipse cx="88" cy="71" rx="3" ry="5" fill="#a3a3a3" filter="url(#f1_5)"/>
<ellipse cx="139" cy="70" rx="3" ry="5" fill="#a3a3a3" filter="url(#f1_5)"/>
<ellipse cx="177" cy="69" rx="3" ry="6" fill="#a8a8a8" filter="url(#f1_5)"/>
<ellipse cx="203" cy="69" rx="4" ry="6" fill="#a8a8a8" filter="url(#f1_5)"/>
<ellipse cx="8" cy="68" rx="8" ry="7" fill="#9e9e9e" filter="url(#f2)"/>
<rect x="-5" y="78.8" width="235" height="20.2" fill="#dedede" filter="url(#f1_2)"/>
<ellipse cx="150" cy="87" rx="40" ry="7" fill="#c4c4c4" filter="url(#f3)"/>
<ellipse cx="60" cy="87" rx="25" ry="5" fill="#d1d1d1" filter="url(#f3)"/>
<ellipse cx="196" cy="90" rx="13" ry="9" fill="#f5f5f5" filter="url(#f3)"/>
<ellipse cx="137.5" cy="85" rx="3.5" ry="3" fill="#808080" filter="url(#f1)"/>
<rect x="-5" y="98.5" width="235" height="3.5" fill="#9e9e9e" filter="url(#f1)"/>
<rect x="-5" y="102" width="235" height="26" fill="#666666" filter="url(#f2)"/>
<ellipse cx="55" cy="111" rx="12" ry="5" fill="#1a1a1a" filter="url(#f2_5)"/>
<ellipse cx="100" cy="114" rx="18" ry="5" fill="#1a1a1a" filter="url(#f2_5)"/>
<ellipse cx="139" cy="111" rx="16" ry="7" fill="#0a0a0a" filter="url(#f2_5)"/>
<ellipse cx="158" cy="131" rx="14" ry="6" fill="#0f0f0f" filter="url(#f2_5)"/>
<ellipse cx="20" cy="110" rx="10" ry="5" fill="#4c4c4c" filter="url(#f2)"/>
<ellipse cx="51" cy="133" rx="16" ry="6.5" fill="#0a0a0a" filter="url(#f2)"/>
<ellipse cx="122" cy="147" rx="60" ry="21" fill="#858585" filter="url(#f5)"/>
<ellipse cx="124" cy="147" rx="46" ry="15" fill="#a8a8a8" filter="url(#f4)"/>
<ellipse cx="127" cy="147" rx="32" ry="9.5" fill="#d1d1d1" filter="url(#f3)"/>
<rect x="-5" y="166" width="235" height="10" fill="#5c5c5c" filter="url(#f3)"/>
<ellipse cx="114" cy="191" rx="30" ry="14" fill="#0a0a0a" filter="url(#f3)"/>
<rect x="-5" y="125" width="43" height="31" fill="#1f1f1f" filter="url(#f2)"/>
<rect x="-5" y="156" width="85" height="34" fill="#5c5c5c" filter="url(#f2)"/>
<rect x="198" y="100" width="32" height="12.5" fill="#616161" filter="url(#f1_5)"/>
<rect x="192" y="112.5" width="38" height="10.5" fill="#858585" filter="url(#f1_5)"/>
<rect x="185" y="123" width="45" height="13" fill="#5c5c5c" filter="url(#f1_5)"/>
<rect x="175" y="136" width="55" height="10" fill="#262626" filter="url(#f1_5)"/>
<rect x="165" y="146" width="65" height="11" fill="#8f8f8f" filter="url(#f1_5)"/>
<rect x="150" y="157" width="80" height="10" fill="#5c5c5c" filter="url(#f1_5)"/>
<rect x="130" y="167" width="100" height="23" fill="#292929" filter="url(#f1_5)"/>
</g>
<mask id="kc" maskUnits="userSpaceOnUse" x="0" y="0" width="222.5" height="185.5"><use href="#sc" filter="url(#mc)"/></mask>
</defs>
<use href="#sc" filter="url(#jc)"/>
<g>
<rect x="0" y="0" width="222.5" height="185.5" fill="url(#ac0)"/>
</g>
<path d="M141.0,85.0C141.0,85.6 140.7,86.3 140.3,86.8C139.9,87.3 139.2,87.7 138.6,87.9C137.9,88.1 137.1,88.1 136.4,87.9C135.8,87.7 135.1,87.3 134.7,86.8C134.3,86.3 134.0,85.6 134.0,85.0C134.0,84.4 134.3,83.7 134.7,83.2C135.1,82.7 135.8,82.3 136.4,82.1C137.1,81.9 137.9,81.9 138.6,82.1C139.2,82.3 139.9,82.7 140.3,83.2C140.7,83.7 141.0,84.4 141.0,85.0Z" fill="none" stroke="#221100" stroke-width="0.8" opacity="0.65"/>
<path d="M-2.0,74.0C3.3,73.9 19.7,73.4 30.0,73.5C40.3,73.6 51.0,74.4 60.0,74.5C69.0,74.6 79.3,74.8 84.0,74.0C88.7,73.2 86.7,70.0 88.0,70.0C89.3,70.0 86.7,73.2 92.0,74.0C97.3,74.8 112.8,74.5 120.0,74.5C127.2,74.5 131.8,74.8 135.0,74.0C138.2,73.2 137.7,70.0 139.0,70.0C140.3,70.0 137.8,73.4 143.0,74.0C148.2,74.6 164.3,74.4 170.0,73.5C175.7,72.6 175.0,68.6 177.0,68.5C179.0,68.4 178.5,72.2 182.0,73.0C185.5,73.8 194.5,73.8 198.0,73.0C201.5,72.2 201.3,68.5 203.0,68.5C204.7,68.5 204.3,72.2 208.0,73.0C211.7,73.8 222.2,73.0 225.0,73.0" fill="none" stroke="#221100" stroke-width="0.8" opacity="0.65"/>
<path d="M-2.0,100.5C5.0,100.4 26.3,99.9 40.0,100.0C53.7,100.1 66.7,100.9 80.0,101.0C93.3,101.1 106.7,100.5 120.0,100.5C133.3,100.5 146.7,101.1 160.0,101.0C173.3,100.9 189.2,100.1 200.0,100.0C210.8,99.9 220.8,100.4 225.0,100.5" fill="none" stroke="#221100" stroke-width="0.8" opacity="0.65"/>
<path d="M-1,-1 L4.5,-1 L4.5,0 L5.5,30 L7.5,55 L10,67 L13.5,80 L17,92 L25.5,104.7 L38.4,130.7 L54,151.5 L72.2,167 L90.4,180 L100,186 L118,186 L125,182.6 L148.4,169.6 L166.6,154 L182.2,136 L195.2,115 L205.6,91.8 L209,71 L213,50 L216,30 L220,0 L220,-1 L223.5,-1 L223.5,186.5 L-1,186.5 Z" fill="#fff" fill-opacity="0.5"/>
<rect x="0.25" y="0.25" width="222" height="185" fill="none" stroke="#444" stroke-width="0.5"/>
</svg>
<svg class="pl" style="left:288px;top:229.2px" width="224" height="186" viewBox="0 0 224 186">
<defs>
<filter id="jd" filterUnits="userSpaceOnUse" x="-20" y="-20" width="264" height="226" color-interpolation-filters="sRGB">
<feGaussianBlur stdDeviation="1"/>
<feComponentTransfer><feFuncR type="table" tableValues="0 0 0 0 0.5 1 1 1 0.5"/><feFuncG type="table" tableValues="0 0 0.5 1 1 1 0.5 0 0"/><feFuncB type="table" tableValues="0.5 1 1 1 0.5 0 0 0 0"/><feFuncA type="discrete" tableValues="1"/></feComponentTransfer>
</filter>
<filter id="md" filterUnits="userSpaceOnUse" x="-20" y="-20" width="264" height="226" color-interpolation-filters="sRGB">
<feGaussianBlur stdDeviation="1"/>
<feComponentTransfer><feFuncR type="discrete" tableValues="1 1 1 1 1 1 1 1 1 1 1 1 1 1 1 1 1 1 1 1"/><feFuncG type="discrete" tableValues="1 1 1 1 1 1 1 1 1 1 1 1 1 1 1 1 1 1 1 1"/><feFuncB type="discrete" tableValues="1 1 1 1 1 1 1 1 1 1 1 1 1 1 1 1 1 1 1 1"/><feFuncA type="discrete" tableValues="1"/></feComponentTransfer>
</filter>
<pattern id="ad0" patternUnits="userSpaceOnUse" x="-0.95" y="2.7" width="7.3" height="6">
<path d="M3.01,3.64L4.29,2.36" stroke="#000" stroke-width="1.9" stroke-linecap="round" opacity="0.8"/>
</pattern>
<g id="sd">
<rect x="-20" y="-20" width="264" height="226" fill="#111111"/>
<rect x="-5" y="40" width="235" height="42" fill="#292929" filter="url(#f3)"/>
<ellipse cx="10" cy="46" rx="3" ry="9" fill="#4c4c4c" filter="url(#f1_5)"/>
<ellipse cx="22" cy="46" rx="3" ry="9" fill="#575757" filter="url(#f1_5)"/>
<ellipse cx="33" cy="46" rx="3" ry="9" fill="#474747" filter="url(#f1_5)"/>
<ellipse cx="45" cy="46" rx="3" ry="9" fill="#4c4c4c" filter="url(#f1_5)"/>
<ellipse cx="57" cy="46" rx="3" ry="9" fill="#575757" filter="url(#f1_5)"/>
<ellipse cx="68" cy="46" rx="3" ry="9" fill="#474747" filter="url(#f1_5)"/>
<ellipse cx="80" cy="46" rx="3" ry="9" fill="#4c4c4c" filter="url(#f1_5)"/>
<ellipse cx="92" cy="46" rx="3" ry="9" fill="#525252" filter="url(#f1_5)"/>
<ellipse cx="103" cy="46" rx="3" ry="9" fill="#4c4c4c" filter="url(#f1_5)"/>
<ellipse cx="115" cy="46" rx="3" ry="9" fill="#4c4c4c" filter="url(#f1_5)"/>
<ellipse cx="128" cy="46" rx="3" ry="9" fill="#4c4c4c" filter="url(#f1_5)"/>
<ellipse cx="140" cy="46" rx="3" ry="9" fill="#525252" filter="url(#f1_5)"/>
<ellipse cx="152" cy="46" rx="3" ry="9" fill="#4c4c4c" filter="url(#f1_5)"/>
<ellipse cx="163" cy="46" rx="3" ry="9" fill="#4c4c4c" filter="url(#f1_5)"/>
<ellipse cx="175" cy="46" rx="3" ry="9" fill="#525252" filter="url(#f1_5)"/>
<ellipse cx="187" cy="46" rx="3" ry="9" fill="#4c4c4c" filter="url(#f1_5)"/>
<ellipse cx="198" cy="46" rx="3" ry="9" fill="#525252" filter="url(#f1_5)"/>
<ellipse cx="210" cy="46" rx="3" ry="9" fill="#525252" filter="url(#f1_5)"/>
<rect x="-5" y="52" width="235" height="30" fill="#6b6b6b" filter="url(#f3)"/>
<ellipse cx="53" cy="58" rx="14" ry="12" fill="#a1a1a1" filter="url(#f2_5)"/>
<ellipse cx="76" cy="60" rx="7" ry="9" fill="#949494" filter="url(#f2)"/>
<ellipse cx="104" cy="56" rx="6" ry="12" fill="#a1a1a1" filter="url(#f2)"/>
<ellipse cx="139" cy="60" rx="9" ry="12" fill="#9e9e9e" filter="url(#f2_5)"/>
<ellipse cx="182" cy="62" rx="24" ry="13" fill="#9e9e9e" filter="url(#f3)"/>
<ellipse cx="206" cy="60" rx="7" ry="11" fill="#999999" filter="url(#f2)"/>
<ellipse cx="30" cy="64" rx="7" ry="7" fill="#858585" filter="url(#f2)"/>
<ellipse cx="120" cy="70" rx="8" ry="6" fill="#858585" filter="url(#f2)"/>
<ellipse cx="90" cy="72" rx="8" ry="5" fill="#858585" filter="url(#f2)"/>
<ellipse cx="20" cy="55" rx="4" ry="5" fill="#262626" filter="url(#f1_5)"/>
<ellipse cx="88" cy="62" rx="4" ry="5" fill="#262626" filter="url(#f1_5)"/>
<ellipse cx="120" cy="62" rx="5" ry="6" fill="#262626" filter="url(#f1_5)"/>
<ellipse cx="160" cy="58" rx="3" ry="5" fill="#262626" filter="url(#f1_5)"/>
<ellipse cx="172" cy="72" rx="3" ry="3" fill="#2e2e2e" filter="url(#f1_5)"/>
<ellipse cx="195" cy="70" rx="3" ry="3" fill="#2e2e2e" filter="url(#f1_5)"/>
<ellipse cx="40" cy="70" rx="4" ry="3" fill="#2e2e2e" filter="url(#f1_5)"/>
<rect x="-5" y="75.5" width="235" height="5" fill="#a3a3a3" filter="url(#f1_2)"/>
<rect x="-5" y="80" width="235" height="18.5" fill="#dedede" filter="url(#f1_2)"/>
<ellipse cx="134" cy="88" rx="10" ry="6" fill="#999999" filter="url(#f2_5)"/>
<ellipse cx="190" cy="90" rx="18" ry="8" fill="#f5f5f5" filter="url(#f3)"/>
<rect x="-5" y="98" width="235" height="4" fill="#9e9e9e" filter="url(#f1)"/>
<rect x="-5" y="101.5" width="235" height="26.5" fill="#6b6b6b" filter="url(#f2)"/>
<ellipse cx="38" cy="115" rx="16" ry="9" fill="#a8a8a8" filter="url(#f3)"/>
<ellipse cx="80" cy="110" rx="10" ry="4" fill="#1a1a1a" filter="url(#f2)"/>
<ellipse cx="138" cy="116" rx="22" ry="11" fill="#0d0d0d" filter="url(#f2_5)"/>
<ellipse cx="188" cy="105" rx="5" ry="4" fill="#1f1f1f" filter="url(#f1_5)"/>
<ellipse cx="64" cy="135" rx="17" ry="6.5" fill="#0a0a0a" filter="url(#f2)"/>
<ellipse cx="122" cy="146" rx="62" ry="23" fill="#858585" filter="url(#f5)"/>
<ellipse cx="124" cy="145" rx="48" ry="15" fill="#a8a8a8" filter="url(#f4)"/>
<ellipse cx="126" cy="145" rx="34" ry="10" fill="#d1d1d1" filter="url(#f3)"/>
<rect x="-5" y="165" width="235" height="11" fill="#5c5c5c" filter="url(#f3)"/>
<ellipse cx="108" cy="191" rx="30" ry="14" fill="#0a0a0a" filter="url(#f3)"/>
<rect x="-5" y="126" width="45" height="34" fill="#1f1f1f" filter="url(#f2)"/>
<rect x="-5" y="160" width="95" height="30" fill="#5c5c5c" filter="url(#f2)"/>
<rect x="200" y="102" width="30" height="20" fill="#616161" filter="url(#f1_5)"/>
<rect x="185" y="122" width="45" height="10" fill="#4c4c4c" filter="url(#f1_5)"/>
<rect x="180" y="132" width="50" height="16" fill="#242424" filter="url(#f1_5)"/>
<rect x="170" y="148" width="60" height="12" fill="#808080" filter="url(#f1_5)"/>
<rect x="130" y="166" width="100" height="24" fill="#242424" filter="url(#f1_5)"/>
</g>
<mask id="kd" maskUnits="userSpaceOnUse" x="0" y="0" width="224" height="186"><use href="#sd" filter="url(#md)"/></mask>
</defs>
<use href="#sd" filter="url(#jd)"/>
<g>
<rect x="0" y="0" width="224" height="186" fill="url(#ad0)"/>
</g>
<path d="M63.0,58.0C63.0,59.8 62.2,61.9 61.1,63.3C60.0,64.7 58.0,66.0 56.1,66.6C54.2,67.1 51.8,67.1 49.9,66.6C48.0,66.0 46.0,64.7 44.9,63.3C43.8,61.9 43.0,59.8 43.0,58.0C43.0,56.2 43.8,54.1 44.9,52.7C46.0,51.3 48.0,50.0 49.9,49.4C51.8,48.8 54.2,48.8 56.1,49.4C58.0,50.0 60.0,51.3 61.1,52.7C62.2,54.1 63.0,56.2 63.0,58.0Z" fill="none" stroke="#221100" stroke-width="0.8" opacity="0.65"/>
<path d="M108.5,56.0C108.5,57.9 108.1,60.1 107.6,61.6C107.1,63.1 106.2,64.4 105.4,65.0C104.6,65.6 103.4,65.6 102.6,65.0C101.8,64.4 100.9,63.1 100.4,61.6C99.9,60.1 99.5,57.9 99.5,56.0C99.5,54.1 99.9,51.9 100.4,50.4C100.9,48.9 101.8,47.6 102.6,47.0C103.4,46.4 104.6,46.4 105.4,47.0C106.2,47.6 107.1,48.9 107.6,50.4C108.1,51.9 108.5,54.1 108.5,56.0Z" fill="none" stroke="#221100" stroke-width="0.8" opacity="0.65"/>
<path d="M145.0,60.0C145.0,61.8 144.6,63.9 143.9,65.3C143.2,66.7 142.0,68.0 140.9,68.6C139.8,69.1 138.2,69.1 137.1,68.6C136.0,68.0 134.8,66.7 134.1,65.3C133.4,63.9 133.0,61.8 133.0,60.0C133.0,58.2 133.4,56.1 134.1,54.7C134.8,53.3 136.0,52.0 137.1,51.4C138.2,50.8 139.8,50.8 140.9,51.4C142.0,52.0 143.2,53.3 143.9,54.7C144.6,56.1 145.0,58.2 145.0,60.0Z" fill="none" stroke="#221100" stroke-width="0.8" opacity="0.65"/>
<path d="M198.0,62.0C198.0,64.0 196.7,66.3 194.6,67.9C192.5,69.5 189.0,70.9 185.6,71.5C182.2,72.1 177.8,72.1 174.4,71.5C171.0,70.9 167.5,69.5 165.4,67.9C163.3,66.3 162.0,64.0 162.0,62.0C162.0,60.0 163.3,57.7 165.4,56.1C167.5,54.5 171.0,53.1 174.4,52.5C177.8,51.9 182.2,51.9 185.6,52.5C189.0,53.1 192.5,54.5 194.6,56.1C196.7,57.7 198.0,60.0 198.0,62.0Z" fill="none" stroke="#221100" stroke-width="0.8" opacity="0.65"/>
<path d="M77.0,60.0C77.0,61.2 76.6,62.5 76.0,63.5C75.4,64.5 74.4,65.3 73.5,65.7C72.6,66.1 71.4,66.1 70.5,65.7C69.6,65.3 68.6,64.5 68.0,63.5C67.4,62.5 67.0,61.2 67.0,60.0C67.0,58.8 67.4,57.5 68.0,56.5C68.6,55.5 69.6,54.7 70.5,54.3C71.4,53.9 72.6,53.9 73.5,54.3C74.4,54.7 75.4,55.5 76.0,56.5C76.6,57.5 77.0,58.8 77.0,60.0Z" fill="none" stroke="#221100" stroke-width="0.8" opacity="0.65"/>
<path d="M-2.0,79.0C1.7,78.9 13.0,78.4 20.0,78.5C27.0,78.6 33.3,79.6 40.0,79.5C46.7,79.4 53.3,78.1 60.0,78.0C66.7,77.9 73.3,79.1 80.0,79.0C86.7,78.9 94.2,77.5 100.0,77.5C105.8,77.5 110.8,79.2 115.0,79.0C119.2,78.8 122.5,76.0 125.0,76.0C127.5,76.0 125.8,78.6 130.0,79.0C134.2,79.4 142.5,78.5 150.0,78.5C157.5,78.5 166.7,79.1 175.0,79.0C183.3,78.9 191.7,78.1 200.0,78.0C208.3,77.9 220.8,78.4 225.0,78.5" fill="none" stroke="#221100" stroke-width="0.8" opacity="0.65"/>
<path d="M-2.0,98.5C5.0,98.6 26.3,99.1 40.0,99.0C53.7,98.9 66.7,98.0 80.0,98.0C93.3,98.0 106.7,98.9 120.0,99.0C133.3,99.1 146.7,98.5 160.0,98.5C173.3,98.5 189.2,99.0 200.0,99.0C210.8,99.0 220.8,98.6 225.0,98.5" fill="none" stroke="#221100" stroke-width="0.8" opacity="0.65"/>
<path d="M-1,-1 L5,-1 L5,0 L6,30 L8,55 L11,70 L14.9,88 L23.6,97.2 L36.7,123.4 L52.4,147 L68.1,162.7 L83.8,175.8 L97,186.5 L120.5,186.5 L136.2,175.8 L154.5,162.7 L170.3,149.6 L183.4,134 L196.5,115.5 L207,97.2 L212,80 L214.8,65 L217,45 L219,25 L221.4,0 L221.4,-1 L225,-1 L225,187 L-1,187 Z" fill="#fff" fill-opacity="0.5"/>
<rect x="0.25" y="0.25" width="223.5" height="185.5" fill="none" stroke="#444" stroke-width="0.5"/>
</svg>
<div class="cb" style="left:516.4px;top:16.3px;width:9px;height:185.7px;background:linear-gradient(to bottom,#800000 0%,#ff0000 12.5%,#ffff00 37.5%,#00ffff 62.5%,#0000ff 87.5%,#000080 100%)"></div>
<div class="cb" style="left:517.2px;top:229.5px;width:8.6px;height:185.9px;background:linear-gradient(to bottom,#800000 0%,#ff0000 12.5%,#ffff00 37.5%,#00ffff 62.5%,#0000ff 87.5%,#000080 100%)"></div>
<svg width="0" height="0" style="position:absolute"><defs><filter id="f0_8" filterUnits="userSpaceOnUse" x="-40" y="-40" width="320" height="270" color-interpolation-filters="sRGB"><feGaussianBlur stdDeviation="0.8"/></filter><filter id="f1" filterUnits="userSpaceOnUse" x="-40" y="-40" width="320" height="270" color-interpolation-filters="sRGB"><feGaussianBlur stdDeviation="1"/></filter><filter id="f1_2" filterUnits="userSpaceOnUse" x="-40" y="-40" width="320" height="270" color-interpolation-filters="sRGB"><feGaussianBlur stdDeviation="1.2"/></filter><filter id="f1_5" filterUnits="userSpaceOnUse" x="-40" y="-40" width="320" height="270" color-interpolation-filters="sRGB"><feGaussianBlur stdDeviation="1.5"/></filter><filter id="f2" filterUnits="userSpaceOnUse" x="-40" y="-40" width="320" height="270" color-interpolation-filters="sRGB"><feGaussianBlur stdDeviation="2"/></filter><filter id="f2_5" filterUnits="userSpaceOnUse" x="-40" y="-40" width="320" height="270" color-interpolation-filters="sRGB"><feGaussianBlur stdDeviation="2.5"/></filter><filter id="f3" filterUnits="userSpaceOnUse" x="-40" y="-40" width="320" height="270" color-interpolation-filters="sRGB"><feGaussianBlur stdDeviation="3"/></filter><filter id="f4" filterUnits="userSpaceOnUse" x="-40" y="-40" width="320" height="270" color-interpolation-filters="sRGB"><feGaussianBlur stdDeviation="4"/></filter><filter id="f5" filterUnits="userSpaceOnUse" x="-40" y="-40" width="320" height="270" color-interpolation-filters="sRGB"><feGaussianBlur stdDeviation="5"/></filter><filter id="f6" filterUnits="userSpaceOnUse" x="-40" y="-40" width="320" height="270" color-interpolation-filters="sRGB"><feGaussianBlur stdDeviation="6"/></filter></defs></svg>
<svg id="tx" width="550" height="443" viewBox="0 0 550 443"><text x="7.4" y="27.2" font-size="20.5" font-weight="normal" text-anchor="start">(a)</text>
<text x="259.9" y="26.8" font-size="20.5" font-weight="normal" text-anchor="start">(b)</text>
<text x="7.4" y="237.3" font-size="20.5" font-weight="normal" text-anchor="start">(c)</text>
<text x="256.9" y="235.3" font-size="20.5" font-weight="normal" text-anchor="start">(d)</text>
<text x="72.9" y="15" font-size="15" font-weight="bold" text-anchor="start" textLength="126.3" lengthAdjust="spacingAndGlyphs">WTC:RFSDI-PRE</text>
<text x="337.5" y="14.8" font-size="15" font-weight="bold" text-anchor="start" textLength="128" lengthAdjust="spacingAndGlyphs">WTC:RFSDI-RHU</text>
<text x="69.5" y="226.3" font-size="14.5" font-weight="normal" text-anchor="start" textLength="126" lengthAdjust="spacingAndGlyphs" stroke="#000" stroke-width="0.35">XWT:RFSDI-PRE</text>
<text x="340.4" y="226.3" font-size="14.5" font-weight="normal" text-anchor="start" textLength="128" lengthAdjust="spacingAndGlyphs" stroke="#000" stroke-width="0.35">XWT:RFSDI-RHU</text>
<text x="15.3" y="54.4" font-size="13" font-weight="bold" text-anchor="start">4</text>
<text x="15.3" y="86.1" font-size="13" font-weight="bold" text-anchor="start">8</text>
<text x="15.3" y="118.1" font-size="13" font-weight="bold" text-anchor="start">16</text>
<text x="15.3" y="164.6" font-size="13" font-weight="bold" text-anchor="start">32</text>
<text x="15.3" y="197.5" font-size="13" font-weight="bold" text-anchor="start">64</text>
<text x="272.4" y="52.8" font-size="13" font-weight="bold" text-anchor="start">4</text>
<text x="272.4" y="84.5" font-size="13" font-weight="bold" text-anchor="start">8</text>
<text x="272.4" y="119.1" font-size="13" font-weight="bold" text-anchor="start">16</text>
<text x="272.4" y="163.2" font-size="13" font-weight="bold" text-anchor="start">32</text>
<text x="272.4" y="195.3" font-size="13" font-weight="bold" text-anchor="start">64</text>
<text x="14.8" y="267.6" font-size="13" font-weight="bold" text-anchor="start">4</text>
<text x="14.8" y="298.7" font-size="13" font-weight="bold" text-anchor="start">8</text>
<text x="14.8" y="329.3" font-size="13" font-weight="bold" text-anchor="start">16</text>
<text x="14.8" y="376.9" font-size="13" font-weight="bold" text-anchor="start">32</text>
<text x="14.8" y="408.3" font-size="13" font-weight="bold" text-anchor="start">64</text>
<text x="271.8" y="267.3" font-size="13" font-weight="bold" text-anchor="start">4</text>
<text x="271.8" y="298.3" font-size="13" font-weight="bold" text-anchor="start">8</text>
<text x="271.8" y="329.7" font-size="13" font-weight="bold" text-anchor="start">16</text>
<text x="271.8" y="377.6" font-size="13" font-weight="bold" text-anchor="start">32</text>
<text x="271.8" y="408.8" font-size="13" font-weight="bold" text-anchor="start">64</text>
<text x="49.5" y="213.4" font-size="13" font-weight="bold" text-anchor="middle">2003</text>
<text x="86.5" y="213.4" font-size="13" font-weight="bold" text-anchor="middle">2006</text>
<text x="123.5" y="213.4" font-size="13" font-weight="bold" text-anchor="middle">2009</text>
<text x="160.5" y="213.4" font-size="13" font-weight="bold" text-anchor="middle">2012</text>
<text x="193.5" y="213.4" font-size="13" font-weight="bold" text-anchor="middle">2015</text>
<text x="226.5" y="213.4" font-size="13" font-weight="bold" text-anchor="middle">2018</text>
<text x="308.7" y="213.6" font-size="13" font-weight="bold" text-anchor="middle">2003</text>
<text x="345.3" y="213.6" font-size="13" font-weight="bold" text-anchor="middle">2006</text>
<text x="381.5" y="213.6" font-size="13" font-weight="bold" text-anchor="middle">2009</text>
<text x="418.5" y="213.6" font-size="13" font-weight="bold" text-anchor="middle">2012</text>
<text x="452.5" y="213.6" font-size="13" font-weight="bold" text-anchor="middle">2015</text>
<text x="485.5" y="213.6" font-size="13" font-weight="bold" text-anchor="middle">2018</text>
<text x="54.3" y="426.4" font-size="13" font-weight="bold" text-anchor="middle">2003</text>
<text x="91" y="426.4" font-size="13" font-weight="bold" text-anchor="middle">2006</text>
<text x="127.5" y="426.4" font-size="13" font-weight="bold" text-anchor="middle">2009</text>
<text x="164.5" y="426.4" font-size="13" font-weight="bold" text-anchor="middle">2012</text>
<text x="197.7" y="426.4" font-size="13" font-weight="bold" text-anchor="middle">2015</text>
<text x="231" y="426.4" font-size="13" font-weight="bold" text-anchor="middle">2018</text>
<text x="311.3" y="427.4" font-size="13" font-weight="bold" text-anchor="middle">2003</text>
<text x="348" y="427.4" font-size="13" font-weight="bold" text-anchor="middle">2006</text>
<text x="384.5" y="427.4" font-size="13" font-weight="bold" text-anchor="middle">2009</text>
<text x="421.5" y="427.4" font-size="13" font-weight="bold" text-anchor="middle">2012</text>
<text x="454.7" y="427.4" font-size="13" font-weight="bold" text-anchor="middle">2015</text>
<text x="487.5" y="427.4" font-size="13" font-weight="bold" text-anchor="middle">2018</text>
<text x="137.3" y="439.6" font-size="16" font-weight="bold" text-anchor="middle" textLength="31.6" lengthAdjust="spacingAndGlyphs">Year</text>
<text x="411.1" y="440.2" font-size="16" font-weight="bold" text-anchor="middle" textLength="31.6" lengthAdjust="spacingAndGlyphs">Year</text>
<text x="0" y="0" font-size="12.4" font-weight="bold" text-anchor="middle" transform="translate(12.7 120) rotate(-90)" textLength="74" lengthAdjust="spacingAndGlyphs">Period/Month</text>
<text x="0" y="0" font-size="12.4" font-weight="bold" text-anchor="middle" transform="translate(12.7 338) rotate(-90)" textLength="74" lengthAdjust="spacingAndGlyphs">Period/Month</text>
<text x="529.4" y="26.3" font-size="13.2" font-weight="bold" text-anchor="start">1</text>
<text x="529.4" y="42.9" font-size="13.2" font-weight="bold" text-anchor="start">0.9</text>
<text x="529.4" y="59.5" font-size="13.2" font-weight="bold" text-anchor="start">0.8</text>
<text x="529.4" y="76.1" font-size="13.2" font-weight="bold" text-anchor="start">0.7</text>
<text x="529.4" y="92.7" font-size="13.2" font-weight="bold" text-anchor="start">0.6</text>
<text x="529.4" y="109.3" font-size="13.2" font-weight="bold" text-anchor="start">0.5</text>
<text x="529.4" y="125.9" font-size="13.2" font-weight="bold" text-anchor="start">0.4</text>
<text x="529.4" y="142.5" font-size="13.2" font-weight="bold" text-anchor="start">0.3</text>
<text x="529.4" y="159.1" font-size="13.2" font-weight="bold" text-anchor="start">0.2</text>
<text x="529.4" y="175.7" font-size="13.2" font-weight="bold" text-anchor="start">0.1</text>
<text x="529.4" y="192.3" font-size="13.2" font-weight="bold" text-anchor="start">0</text>
<text x="529.4" y="246.4" font-size="13.2" font-weight="bold" text-anchor="start">8</text>
<text x="529.4" y="280.3" font-size="13.2" font-weight="bold" text-anchor="start">4</text>
<text x="529.4" y="314.2" font-size="13.2" font-weight="bold" text-anchor="start">2</text>
<text x="529.4" y="348.1" font-size="13.2" font-weight="bold" text-anchor="start">1</text>
<text x="529.4" y="382" font-size="13.2" font-weight="bold" text-anchor="start">1/2</text>
<text x="529.4" y="414.8" font-size="13.2" font-weight="bold" text-anchor="start">1/8</text></svg>
</body></html>
